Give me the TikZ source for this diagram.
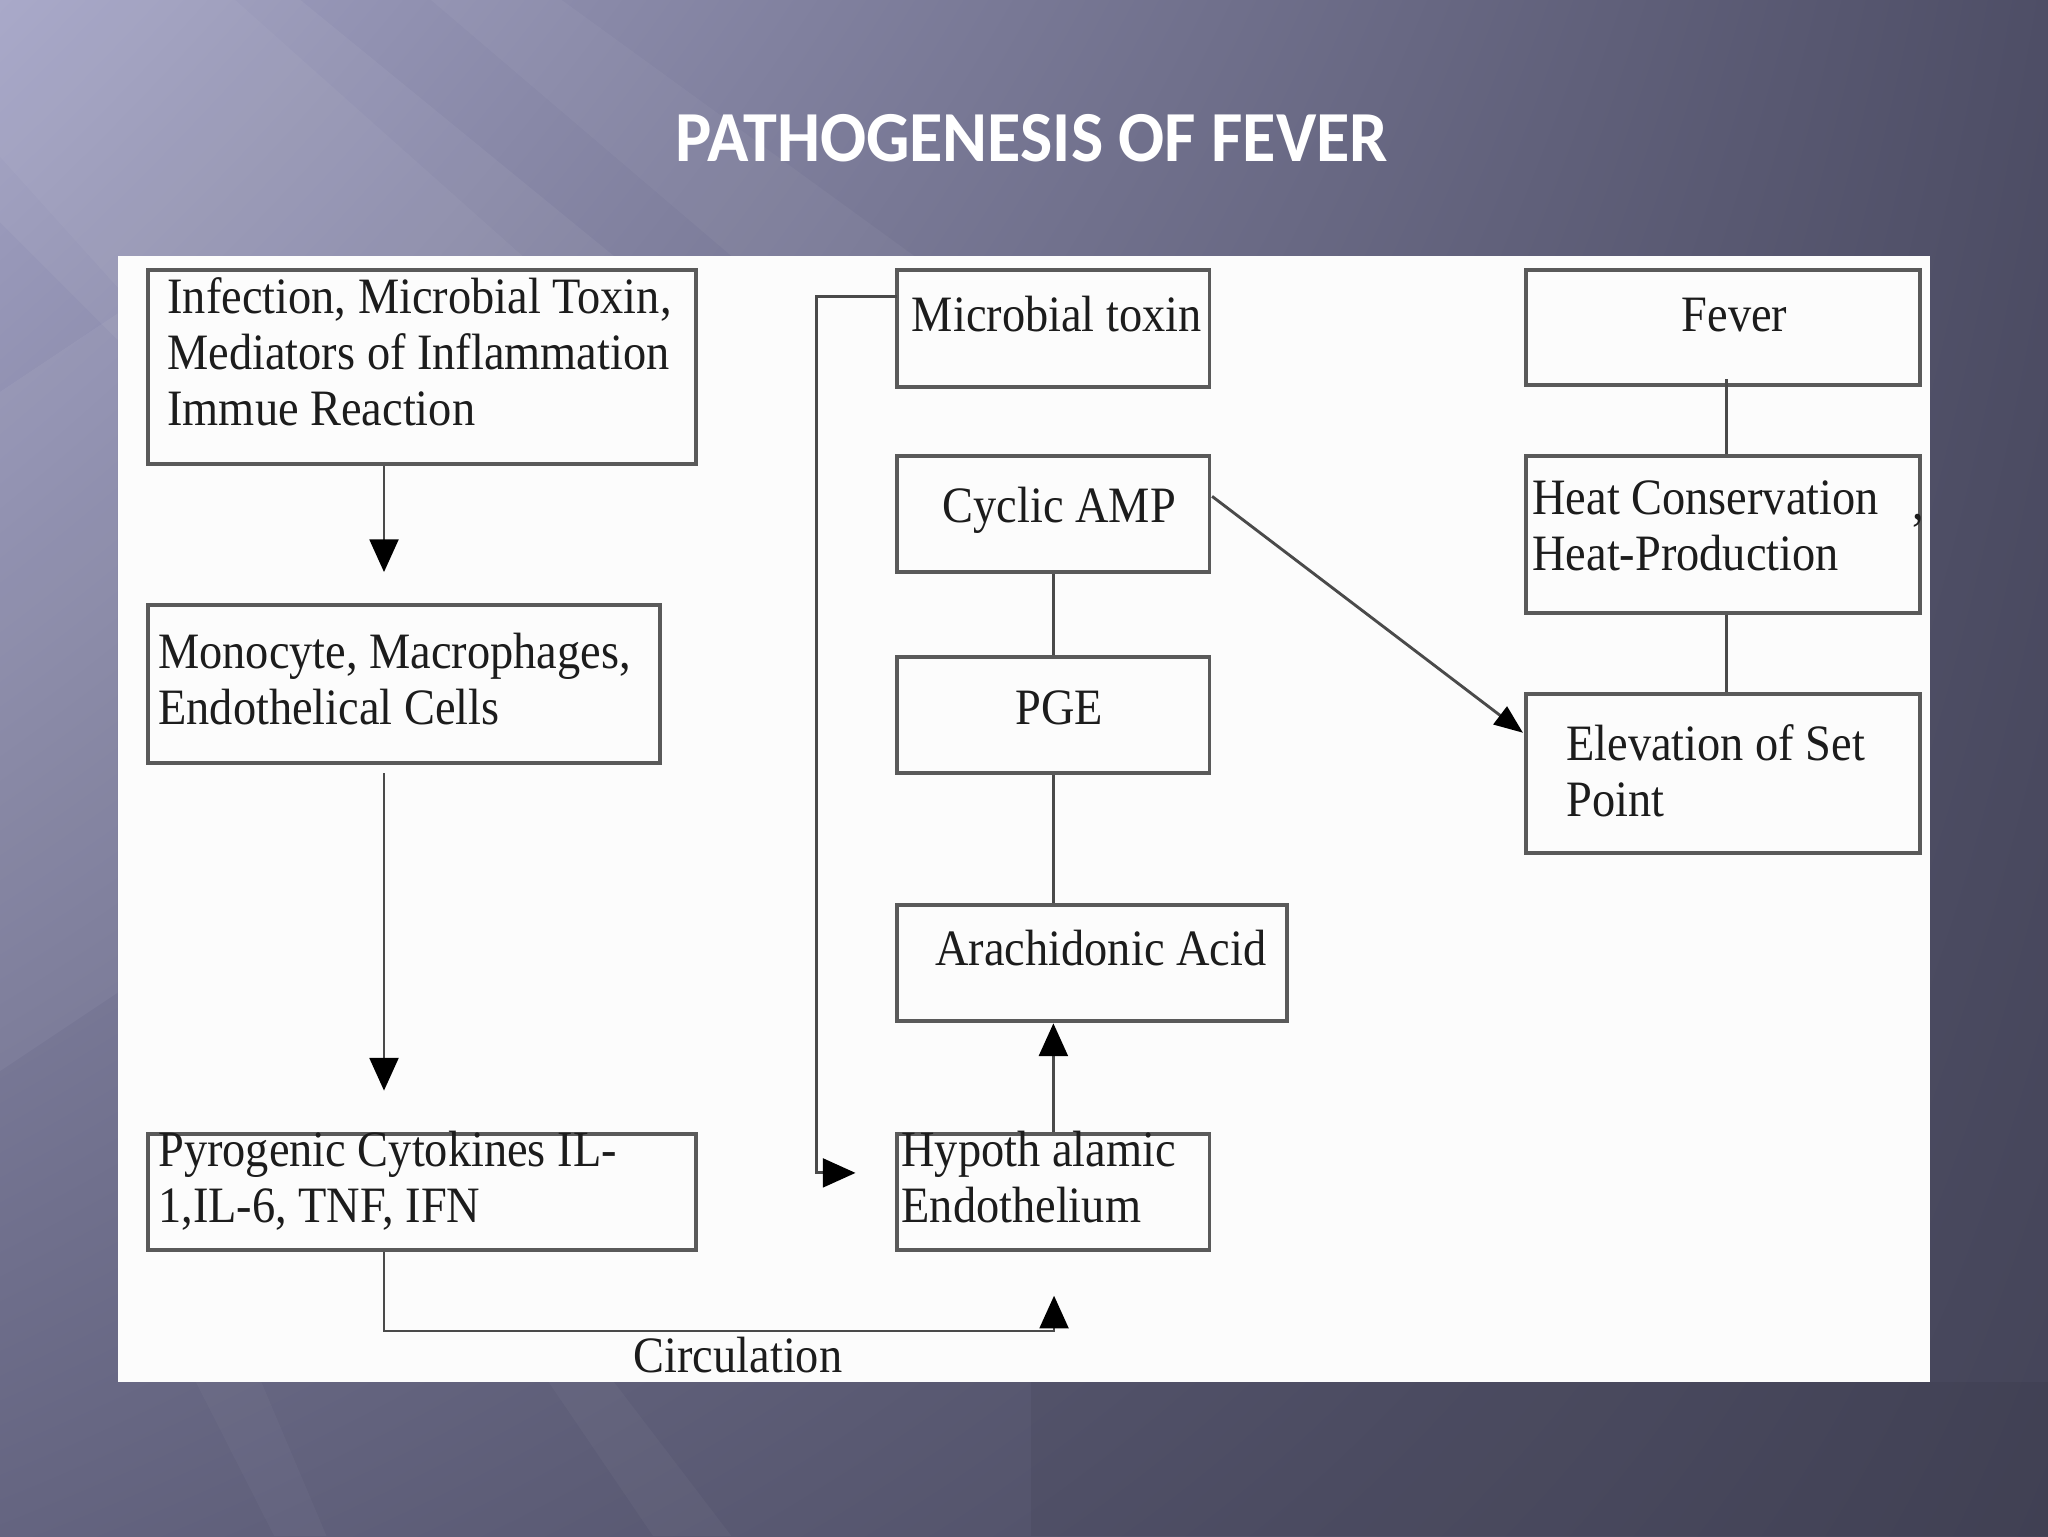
\documentclass[tikz,border=0pt]{standalone}
\usepackage{fontspec}
\setmainfont{Liberation Serif}
\newfontfamily\titlefont{Carlito}
\usepackage{graphicx}
\usetikzlibrary{arrows.meta,shadings}
\definecolor{bgUL}{HTML}{A2A2C4}
\definecolor{bgUR}{HTML}{4E4E66}
\definecolor{bgLL}{HTML}{646480}
\definecolor{bgLR}{HTML}{444458}
\definecolor{boxc}{HTML}{5A5A5A}
\definecolor{linec}{HTML}{4A4A4A}
\definecolor{txtc}{HTML}{1C1C1C}
\newcommand\vt[1]{\scalebox{1}[1.1]{#1}}
\newcommand\vtt[1]{\scalebox{1}[1.1]{\begin{tabular}[t]{@{}l@{}}#1\end{tabular}}}
\begin{document}
\begin{tikzpicture}[x=1pt,y=-1pt,
  boxn/.style={draw=boxc, line width=3pt, rectangle, inner sep=0pt},
  txt/.style={font=\fontsize{35.5}{39}\selectfont, text=txtc, inner sep=0pt, anchor=base west},
  txtc/.style={font=\fontsize{35.5}{39}\selectfont, text=txtc, inner sep=0pt, anchor=base},
  conn/.style={draw=linec, line width=2.2pt},
  arr/.style={conn, -{Triangle[length=25pt,width=22pt,color=black]}},
  arrs/.style={conn, -{Triangle[length=22pt,width=17pt,color=black]}}]
\useasboundingbox (0,0) rectangle (1568,1176);
% background
\shade[upper left=bgUL, upper right=bgUR, lower left=bgLL, lower right=bgLR] (0,0) rectangle (1568,1176);
\fill[white, opacity=0.05] (60,0) -- (230,0) -- (470,196) -- (470,260) -- (90,260) -- (0,170) -- (0,0) -- cycle;
\fill[white, opacity=0.04] (40,0) -- (180,0) -- (400,196) -- (90,220) -- (0,120) -- (0,0) -- cycle;
\fill[white, opacity=0.04] (330,0) -- (430,0) -- (700,196) -- (560,196) -- cycle;
\fill[white, opacity=0.05] (0,300) -- (90,240) -- (90,760) -- (0,820) -- cycle;
\fill[white, opacity=0.03] (150,1058) -- (200,1058) -- (250,1176) -- (210,1176) -- cycle;
\fill[white, opacity=0.03] (420,1058) -- (470,1058) -- (560,1176) -- (500,1176) -- cycle;
\fill[black, opacity=0.05] (789,1058) rectangle (1568,1176);
% title
\node[font=\titlefont\bfseries\fontsize{55}{60}\selectfont, text=white, inner sep=0pt] (title) at (790,106) {\scalebox{0.95}[1]{PATHOGENESIS OF FEVER}};
% panel
\fill[white!99!black] (90,196) rectangle (1478,1058);
% boxes
\node[boxn, minimum width=420pt, minimum height=148pt] (b1) at (323,281) {};
\node[boxn, minimum width=392pt, minimum height=121pt] (b2) at (309,523.5) {};
\node[boxn, minimum width=420pt, minimum height=89pt] (b3) at (323,912.5) {};
\node[boxn, minimum width=239pt, minimum height=89pt] (b4) at (806.5,251.5) {};
\node[boxn, minimum width=239pt, minimum height=89pt] (b5) at (806.5,393.5) {};
\node[boxn, minimum width=239pt, minimum height=89pt] (b6) at (806.5,547.5) {};
\node[boxn, minimum width=298pt, minimum height=89pt] (b7) at (836,737.5) {};
\node[boxn, minimum width=239pt, minimum height=89pt] (b8) at (806.5,912.5) {};
\node[boxn, minimum width=302pt, minimum height=88pt] (b9) at (1319,251) {};
\node[boxn, minimum width=302pt, minimum height=120pt] (b10) at (1319,409) {};
\node[boxn, minimum width=302pt, minimum height=122pt] (b11) at (1319,592) {};
% texts
\node[txt] (t1) at (128,240) {\vtt{Infection, Microbial Toxin,\\Mediators of Inflammation\\Immue Reaction}};
\node[txt] (t2) at (121,512) {\vtt{Monocyte, Macrophages,\\Endothelical Cells}};
\node[txt] (t3) at (121,893) {\vtt{Pyrogenic Cytokines IL-\\1,IL-6, TNF, IFN}};
\node[txt] (t4) at (698,254) {\vt{Microbial toxin}};
\node[txtc] (t5) at (811,400) {\vt{Cyclic AMP}};
\node[txtc] (t6) at (811,555) {\vt{PGE}};
\node[txt] (t7) at (716,739) {\vt{Arachidonic Acid}};
\node[txt] (t8) at (690,893) {\vtt{Hypoth alamic\\Endothelium}};
\node[txtc] (t9) at (1328,254) {\vt{Fever}};
\node[txt] (t10) at (1173,394) {\vtt{Heat Conservation\\Heat-Production}};
\node[txt] (t10b) at (1464,398) {\vt{,}};
\node[txt] (t11) at (1199,582) {\vtt{Elevation of Set\\Point}};
\node[txtc] (circ) at (565,1051) {\vt{Circulation}};
% connector coordinates
\coordinate (lx) at (294,0);
\coordinate (a1) at (294,438);
\coordinate (s2) at (294,592);
\coordinate (a2) at (294,835);
\coordinate (cb) at (807,1019);
\coordinate (a3) at (807,992);
\coordinate (m1) at (687,227);
\coordinate (m2) at (655,898);
\coordinate (c1) at (928,380);
\coordinate (c2) at (1166,561);
\coordinate (hx) at (1322,0);
\coordinate (f1) at (1322,290);
% connectors
\draw[arr] (b1.south -| lx) -- (a1);
\draw[arr] (s2) -- (a2);
\draw[arr] (b3.south -| lx) |- (cb) -- (a3);
\draw[arr] (m1) -- ++(-62,0) |- (m2);
\draw[arr] (b8.north) -- (b8.north |- b7.south);
\draw[conn] (b6.south) -- (b6.south |- b7.north);
\draw[conn] (b6.north) -- (b5.south);
\draw[arrs] (c1) -- (c2);
\draw[conn] (b11.north -| hx) -- (b10.south -| hx);
\draw[conn] (b10.north -| hx) -- (f1);
\end{tikzpicture}
\end{document}
